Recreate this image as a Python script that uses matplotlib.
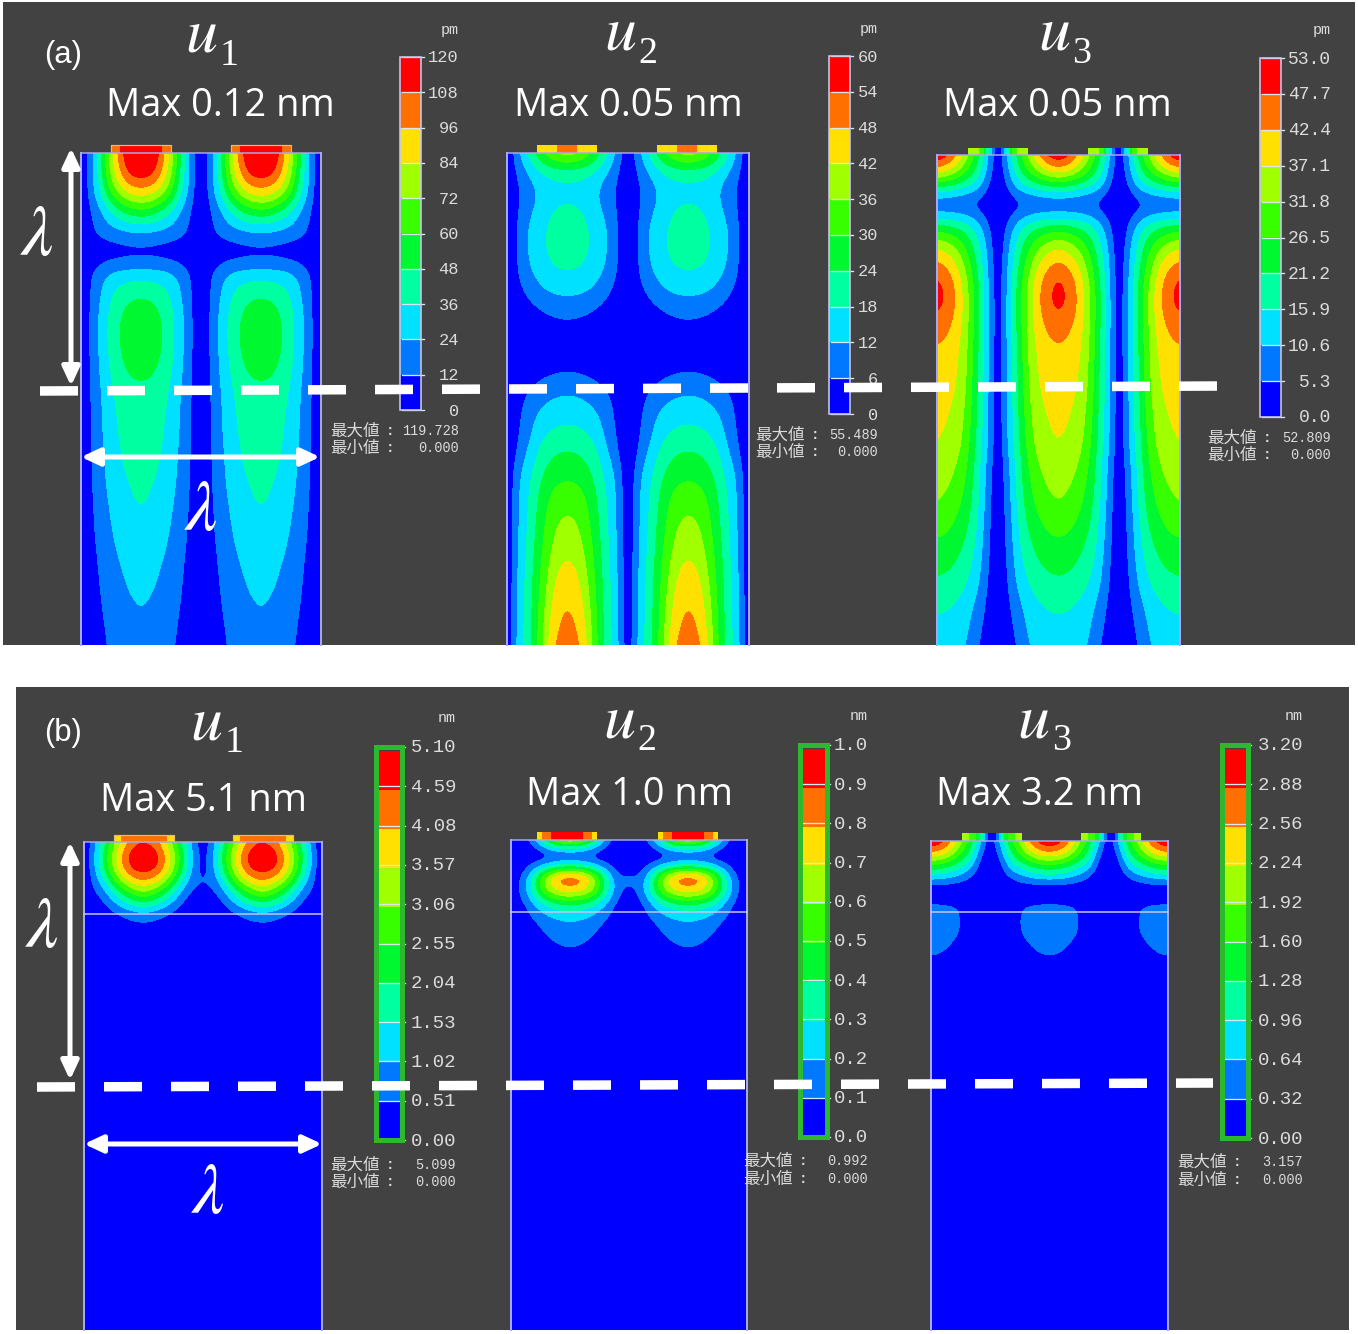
#!/usr/bin/env python3
"""Displacement contour maps of u1, u2, u3 for two surface-wave structures."""
import numpy as np
import matplotlib
matplotlib.use("Agg")
import matplotlib.pyplot as plt
from matplotlib.colors import BoundaryNorm, ListedColormap
from matplotlib.patches import FancyArrowPatch, Rectangle

plt.rcParams["mathtext.fontset"] = "stix"
plt.rcParams["lines.scale_dashes"] = False

W, H = 1358, 1334
BG = "#424242"
EDGE = "#A8A8F0"
TXT = "#DCDCDC"
MONO = "Liberation Mono"
CJK = ["Noto Sans CJK JP", "DejaVu Sans"]

BANDS = ["#0000FF", "#0078FF", "#00E0FF", "#00FFA0", "#00F830", "#38FF00",
         "#A0FF00", "#FFE000", "#FF7000", "#FF0000"]

# Fields are half a unit cell wide, seven columns from the outer wall inward,
# in colour-band units (1.0 = one band, i.e. a tenth of the colour scale).
A_U1 = [
    [0, 1.5, 4.0, 6.8, 8.8, 10.5, 11],
    [0, 1.6, 3.8, 6.4, 8.3, 9.4, 9.7],
    [0, 1.5, 3.2, 5.2, 6.6, 7.4, 7.6],
    [0, 0.95, 1.75, 2.85, 3.65, 4.3, 4.5],
    [0, 0.85, 1.35, 1.55, 1.7, 1.85, 1.9],
    [0, 0.05, 0.15, 0.25, 0.3, 0.35, 0.35],
    [0, 1.0, 1.75, 2.15, 2.35, 2.45, 2.5],
    [0, 1.1, 2.0, 2.9, 3.5, 3.8, 3.9],
    [0, 1.2, 2.3, 3.3, 4.0, 4.4, 4.5],
    [0, 1.2, 2.4, 3.4, 4.2, 4.7, 4.8],
    [0, 1.2, 2.3, 3.3, 4.05, 4.5, 4.6],
    [0, 1.1, 2.2, 3.1, 3.8, 4.1, 4.15],
    [0, 1.1, 2.0, 2.85, 3.4, 3.75, 3.8],
    [0, 1.05, 1.95, 2.75, 3.25, 3.6, 3.65],
    [0, 1.0, 1.9, 2.65, 3.15, 3.45, 3.5],
    [0, 1.0, 1.8, 2.5, 3.05, 3.3, 3.35],
    [0, 0.95, 1.75, 2.4, 2.9, 3.15, 3.2],
    [0, 0.9, 1.65, 2.25, 2.7, 3.0, 3.1],
    [0, 0.85, 1.5, 2.1, 2.55, 2.9, 2.98],
    [0, 0.8, 1.4, 1.95, 2.35, 2.7, 2.8],
    [0, 0.7, 1.25, 1.8, 2.15, 2.45, 2.55],
    [0, 0.6, 1.15, 1.6, 1.95, 2.25, 2.35],
    [0, 0.55, 1.05, 1.45, 1.8, 2.05, 2.15],
    [0, 0.5, 0.95, 1.3, 1.6, 1.85, 1.98],
    [0, 0.45, 0.85, 1.2, 1.45, 1.7, 1.8],
    [0, 0.4, 0.8, 1.1, 1.35, 1.6, 1.7],
]
A_U2 = [
    [0.2, 1.7, 3.2, 4.6, 5.8, 6.6, 7.0],
    [0, 1.1, 1.9, 2.6, 3.0, 3.1, 3.1],
    [0, 0.8, 1.4, 1.95, 2.5, 2.7, 2.75],
    [0, 0.95, 1.7, 2.3, 2.85, 3.15, 3.25],
    [0, 1.05, 2.05, 2.7, 3.1, 3.5, 3.6],
    [0, 1.05, 2.0, 2.6, 3.05, 3.35, 3.4],
    [0, 0.95, 1.75, 2.3, 2.75, 2.95, 3.0],
    [0, 0.6, 1.15, 1.6, 1.95, 2.1, 2.15],
    [0, 0.2, 0.5, 0.8, 1.05, 1.25, 1.3],
    [0, 0, 0.05, 0.15, 0.3, 0.4, 0.45],
    [0, 0, 0.05, 0.1, 0.15, 0.2, 0.2],
    [0, 0, 0.3, 0.6, 0.85, 1.0, 1.05],
    [0, 0.5, 1.05, 1.5, 1.75, 1.9, 1.95],
    [0, 0.7, 1.45, 2.0, 2.3, 2.55, 2.6],
    [0, 0.85, 1.6, 2.5, 3.0, 3.25, 3.3],
    [0, 1.1, 2.1, 3.05, 3.65, 4.0, 4.1],
    [0, 1.7, 2.6, 3.5, 4.3, 4.7, 4.75],
    [0, 1.85, 2.85, 3.9, 4.85, 5.3, 5.4],
    [0, 1.9, 2.95, 4.1, 5.15, 5.8, 6.0],
    [0, 1.95, 3.05, 4.3, 5.4, 6.25, 6.5],
    [0, 2.0, 3.15, 4.45, 5.7, 6.6, 6.9],
    [0, 2.1, 3.3, 4.6, 6.0, 7.1, 7.4],
    [0, 2.15, 3.35, 4.7, 6.3, 7.5, 7.8],
    [0, 2.2, 3.4, 4.8, 6.6, 7.8, 8.15],
    [0, 2.25, 3.45, 4.85, 6.9, 8.1, 8.4],
    [0, 2.35, 3.55, 4.95, 7.1, 8.5, 8.6],
]
A_U3 = [
    [10.8, 10.2, 8.6, 6.8, 4.8, 2.4, 0],
    [9.0, 8.5, 7.4, 5.8, 4.2, 2.1, 0],
    [4.8, 4.6, 4.1, 3.6, 2.8, 1.3, 0],
    [0.3, 0.3, 0.35, 0.3, 0.25, 0.1, 0],
    [4.1, 3.95, 3.7, 3.3, 2.4, 1.2, 0],
    [6.7, 6.4, 5.7, 4.7, 3.4, 1.8, 0],
    [8.3, 7.9, 7.0, 5.6, 3.9, 2.1, 0],
    [9.4, 8.8, 7.8, 6.2, 4.3, 2.3, 0],
    [9.4, 8.9, 7.9, 6.4, 4.4, 2.4, 0],
    [8.6, 8.3, 7.6, 6.3, 4.3, 2.4, 0],
    [8.0, 7.85, 7.3, 6.2, 4.2, 2.35, 0],
    [7.65, 7.5, 7.15, 6.1, 4.1, 2.35, 0],
    [7.45, 7.3, 7.05, 6.0, 4.0, 2.3, 0],
    [7.3, 7.15, 6.85, 5.8, 3.95, 2.25, 0],
    [7.15, 7.0, 6.65, 5.6, 3.85, 2.2, 0],
    [7.02, 6.85, 6.45, 5.4, 3.75, 2.15, 0],
    [6.7, 6.5, 6.0, 5.1, 3.5, 1.8, 0],
    [6.3, 6.1, 5.7, 4.8, 3.4, 1.65, 0],
    [6.0, 5.8, 5.3, 4.5, 3.3, 1.5, 0],
    [5.5, 5.3, 4.8, 4.2, 3.0, 1.4, 0],
    [4.8, 4.7, 4.35, 3.8, 2.8, 1.3, 0],
    [4.3, 4.2, 3.95, 3.4, 2.55, 1.15, 0],
    [3.85, 3.75, 3.5, 3.0, 2.25, 1.0, 0],
    [3.25, 3.15, 2.9, 2.45, 1.75, 0.8, 0],
    [2.8, 2.75, 2.55, 2.2, 1.45, 0.6, 0],
    [2.45, 2.4, 2.3, 2.0, 1.15, 0.4, 0],
    [2.2, 2.15, 2.1, 1.85, 0.95, 0.3, 0],
]
B_U1 = [
    [0.2, 1.6, 3.5, 5.8, 7.4, 8.6, 8.9],
    [0.3, 1.8, 4.2, 6.4, 8.3, 9.6, 9.9],
    [0.4, 2.0, 4.2, 6.6, 8.5, 9.7, 10],
    [0.5, 1.6, 3.8, 6.0, 7.8, 9.0, 9.1],
    [1.1, 1.3, 2.6, 4.8, 6.4, 7.4, 8.0],
    [0.3, 0.9, 1.7, 3.2, 4.6, 5.5, 6.2],
    [0, 0.3, 1.0, 1.9, 3.0, 3.8, 4.2],
    [0, 0, 0.5, 1.0, 1.4, 1.8, 2.0],
    [0, 0, 0.05, 0.3, 0.7, 1.0, 1.1],
    [0, 0, 0, 0, 0, 0.1, 0.2],
    [0, 0, 0, 0, 0, 0, 0],
]
B_U2 = [
    [0, 0.3, 1.6, 4.5, 7.0, 8.5, 9.0],
    [0, 0.1, 0.8, 1.9, 3.5, 4.4, 4.6],
    [0, 0.1, 0.2, 0.35, 0.5, 0.6, 0.6],
    [0, 0.3, 1.0, 1.6, 2.4, 2.9, 3.0],
    [1.2, 0.9, 2.4, 4.9, 6.9, 8.15, 8.2],
    [1.1, 1.3, 3.0, 5.5, 7.2, 8.3, 8.5],
    [0.3, 1.1, 2.5, 4.4, 5.8, 6.4, 6.5],
    [0, 0.6, 1.6, 2.5, 3.3, 3.8, 4.0],
    [0, 0.2, 1.1, 1.7, 2.2, 2.4, 2.5],
    [0, 0, 0.6, 1.1, 1.4, 1.7, 1.8],
    [0, 0, 0.2, 0.85, 1.2, 1.35, 1.4],
    [0, 0, 0, 0.3, 0.8, 1.1, 1.15],
    [0, 0, 0, 0, 0.2, 0.5, 0.7],
    [0, 0, 0, 0, 0, 0, 0],
]
B_U3 = [
    [11, 10, 8.5, 6.8, 5.0, 2.5, 0],
    [9.4, 9.0, 7.9, 6.0, 4.5, 2.0, 0],
    [7.5, 7.3, 6.3, 5.0, 3.7, 1.2, 0],
    [5.0, 4.8, 4.3, 3.5, 2.6, 0.6, 0],
    [3.0, 2.9, 2.5, 2.0, 1.3, 0.25, 0],
    [0.8, 0.8, 0.7, 0.6, 0.3, 0.05, 0],
    [0.2, 0.2, 0.2, 0.15, 0.1, 0, 0],
    [1.2, 1.15, 1.05, 0.9, 0.2, 0, 0],
    [1.4, 1.35, 1.3, 1.05, 0.2, 0, 0],
    [1.4, 1.35, 1.3, 1.1, 0.2, 0, 0],
    [1.35, 1.3, 1.2, 1.0, 0.1, 0, 0],
    [1.3, 1.25, 1.1, 0.6, 0, 0, 0],
    [1.1, 1.05, 0.6, 0.1, 0, 0, 0],
    [0.5, 0.3, 0.1, 0, 0, 0, 0],
    [0, 0, 0, 0, 0, 0, 0],
]

# electrode colour bands, outer edge to electrode centre
STRIP_A_U1 = [8.5, 8.5, 9.5, 9.5, 9.5, 9.5, 9.5]
STRIP_A_U2 = [7.5, 7.5, 7.5, 7.5, 8.2, 8.5, 9.2]
STRIP_A_U3 = [6.5, 6.5, 6.0, 5.0, 3.0, 1.5, 0.0]
STRIP_B_U1 = [7.5, 8.0, 8.5, 8.5, 8.5, 8.5, 8.5]
STRIP_B_U2 = [7.5, 8.5, 8.5, 9.5, 9.5, 9.5, 9.5]
STRIP_B_U3 = [6.5, 6.0, 5.5, 4.5, 3.0, 1.0, 0.0]

TICKS_A_U1 = ["0", "12", "24", "36", "48", "60", "72", "84", "96", "108", "120"]
TICKS_A_U2 = ["0", "6", "12", "18", "24", "30", "36", "42", "48", "54", "60"]
TICKS_A_U3 = ["0.0", "5.3", "10.6", "15.9", "21.2", "26.5", "31.8", "37.1", "42.4", "47.7", "53.0"]
TICKS_B_U1 = ["0.00", "0.51", "1.02", "1.53", "2.04", "2.55", "3.06", "3.57", "4.08", "4.59", "5.10"]
TICKS_B_U2 = ["0.0", "0.1", "0.2", "0.3", "0.4", "0.5", "0.6", "0.7", "0.8", "0.9", "1.0"]
TICKS_B_U3 = ["0.00", "0.32", "0.64", "0.96", "1.28", "1.60", "1.92", "2.24", "2.56", "2.88", "3.20"]

PANELS = [
    dict(field=A_U1, strip=STRIP_A_U1, ticks=TICKS_A_U1, unit="pm", title="Max 0.12 nm", vmax="119.728", sub="1",
         box=(81, 321, 153, 645), ry=(153, 20), wall=True, el=(141, 261, 145, 153),
         bar=(400, 421, 57, 410), lab=459, fs=17, uy=30, my=(431, 448), ml=330,
         tx=(220, 106), u=(201, 52), d=(229, 65), line=None, framed=False, rim=True),
    dict(field=A_U2, strip=STRIP_A_U2, ticks=TICKS_A_U2, unit="pm", title="Max 0.05 nm", vmax="55.489", sub="2",
         box=(507, 749, 153, 645), ry=(153, 20), wall=True, el=(567, 687, 145, 153),
         bar=(829, 850, 56, 414), lab=878, fs=17, uy=29, my=(435, 452), ml=755,
         tx=(628, 106), u=(620, 50), d=(648, 63), line=None, framed=False, rim=False),
    dict(field=A_U3, strip=STRIP_A_U3, ticks=TICKS_A_U3, unit="pm", title="Max 0.05 nm", vmax="52.809", sub="3",
         box=(937, 1180, 155, 645), ry=(144, 20), wall=False, el=(998, 1118, 148, 155),
         bar=(1260, 1281, 58, 417), lab=1331, fs=18, uy=30, my=(438, 455), ml=1207,
         tx=(1057, 106), u=(1054, 50), d=(1082, 63), line=None, framed=False, rim=False),
    dict(field=B_U1, strip=STRIP_B_U1, ticks=TICKS_B_U1, unit="nm", title="Max 5.1 nm", vmax="5.099", sub="1",
         box=(84, 322, 842, 1330), ry=(842, 10), wall=True, el=(144, 263, 835, 842),
         bar=(376, 402, 747, 1140), lab=456, fs=19, uy=718, my=(1165, 1182), ml=330,
         tx=(204, 801), u=(206, 740), d=(234, 752), line=914, framed=True, rim=True),
    dict(field=B_U2, strip=STRIP_B_U2, ticks=TICKS_B_U2, unit="nm", title="Max 1.0 nm", vmax="0.992", sub="2",
         box=(511, 747, 840, 1330), ry=(835, 10), wall=True, el=(567, 688, 832, 840),
         bar=(800, 827, 745, 1137), lab=868, fs=19, uy=716, my=(1161, 1179), ml=743,
         tx=(629, 795), u=(619, 738), d=(647, 750), line=912, framed=True, rim=False),
    dict(field=B_U3, strip=STRIP_B_U3, ticks=TICKS_B_U3, unit="nm", title="Max 3.2 nm", vmax="3.157", sub="3",
         box=(931, 1168, 841, 1330), ry=(835, 10), wall=False, el=(992, 1111, 833, 841),
         bar=(1222, 1248, 745, 1138), lab=1303, fs=19, uy=716, my=(1162, 1180), ml=1177,
         tx=(1040, 795), u=(1033, 738), d=(1062, 750), line=912, framed=True, rim=False),
]

fig = plt.figure(figsize=(W / 100, H / 100), dpi=100, facecolor="white")
ax = fig.add_axes([0, 0, 1, 1])
ax.axis("off")

cmap = ListedColormap(BANDS)
cmap.set_under(BANDS[0])
cmap.set_over(BANDS[-1])
norm = BoundaryNorm(np.arange(11), 10)

ax.add_patch(Rectangle((3, 2), 1352, 643, fc=BG, ec="none", zorder=0))
ax.add_patch(Rectangle((16, 687), 1333, 643, fc=BG, ec="none", zorder=0))


def px(v):
    return v * 0.72


def unit_cells(half, wall):
    # mirror the half cell into two full periods
    half = np.asarray(half, float)
    back = half[:, ::-1]
    grid = np.hstack([half, back[:, 1:], half[:, 1:], back[:, 1:]])
    if wall:
        grid[:, 0] = 0
        grid[:, -1] = 0
    return grid


def draw_field(p):
    x0, x1, y0, y1 = p["box"]
    clip = Rectangle((x0, y0), x1 - x0, y1 - y0, transform=ax.transData)
    ax.add_patch(Rectangle((x0, y0), x1 - x0, y1 - y0, fc=BANDS[0], ec="none", zorder=1))
    grid = unit_cells(p["field"], p["wall"])
    ny, nx = grid.shape
    dx = (x1 - x0) / (nx - 1)
    ytop, dy = p["ry"]
    im = ax.imshow(grid, cmap=cmap, norm=norm, aspect="auto", origin="upper",
                   interpolation="bicubic", interpolation_stage="data",
                   extent=(x0 - dx / 2, x1 + dx / 2, ytop + (ny - 0.5) * dy, ytop - dy / 2),
                   zorder=2)
    im.set_clip_path(clip)

    # electrodes sit on top of the surface
    half = np.asarray(p["strip"], float)
    row = np.concatenate([half, half[-2::-1]])[None, :]
    c0, c1, et, eb = p["el"]
    for c in (c0, c1):
        ax.imshow(row, cmap=cmap, norm=norm, aspect="auto", origin="upper",
                  interpolation="bicubic", interpolation_stage="data",
                  extent=(c - 30, c + 30, eb, et), zorder=2)
        if p["rim"]:
            ax.plot([c - 30, c - 30, c + 30, c + 30], [eb, et, et, eb], color="#E8B878",
                    lw=px(1.2), zorder=3)

    # model outline
    ax.plot([x0, x0], [y0, y1], color=EDGE, lw=px(2), zorder=3)
    ax.plot([x1, x1], [y0, y1], color=EDGE, lw=px(2), zorder=3)
    ax.plot([x0, x1], [y0, y0], color=EDGE, lw=px(1.5), zorder=3)
    if p["line"]:
        ax.plot([x0, x1], [p["line"], p["line"]], color="#C8C8F0", lw=px(1.5), zorder=3)
    ax.set_xlim(0, W)
    ax.set_ylim(H, 0)


def draw_bar(p):
    x0, x1, y0, y1 = p["bar"]
    inner = y0 + (4 if p["framed"] else 0)
    ax.imshow(np.arange(9.5, 0, -1)[:, None], cmap=cmap, norm=norm, aspect="auto",
              interpolation="nearest", extent=(x0, x1, y1, inner), zorder=2)
    ys = np.linspace(y1, y0, len(p["ticks"]))
    for y, lab in zip(ys, p["ticks"]):
        ax.plot([x0 + 2, x1 + 3], [y, y], color="#D8E8F0", lw=px(1.3), zorder=3)
        ax.text(p["lab"], y + 1, lab, ha="right", va="center", color=TXT,
                fontsize=px(p["fs"]), family=MONO, zorder=4)
    if p["framed"]:
        ax.add_patch(Rectangle((x0, y0), x1 - x0, y1 - y0, fc="none", ec="#2EB82E",
                               lw=px(5), zorder=3))
    else:
        ax.add_patch(Rectangle((x0, y0), x1 - x0, y1 - y0, fc="none", ec="#C8C8EC",
                               lw=px(1.6), zorder=3))
    ax.text(p["lab"], p["uy"], p["unit"], ha="right", va="center", color=TXT,
            fontsize=px(15), family=MONO, zorder=4)
    for y, name, val in zip(p["my"], ("最大値", "最小値"), (p["vmax"], "0.000")):
        ax.text(p["ml"], y, name, ha="left", va="center", color=TXT,
                fontsize=px(16.5), family=CJK, zorder=4)
        ax.text(p["ml"] + 60, y, ":", ha="center", va="center", color=TXT,
                fontsize=px(14), family=MONO, fontweight="bold", zorder=4)
        ax.text(p["lab"], y, val, ha="right", va="center", color=TXT,
                fontsize=px(13.5), family=MONO, zorder=4)


def draw_titles(p):
    ax.text(*p["tx"], p["title"], ha="center", va="center", color="white",
            fontsize=px(38), family="Open Sans", zorder=4)
    ax.text(*p["u"], r"$u$", ha="center", va="baseline", color="white",
            fontsize=px(64), zorder=4)
    ax.text(*p["d"], p["sub"], ha="center", va="baseline", color="white",
            fontsize=px(38), family="Liberation Serif", zorder=4)


def double_arrow(a, b):
    ax.add_patch(FancyArrowPatch(a, b, arrowstyle="<|-|>,head_length=0.6,head_width=0.28",
                                 mutation_scale=px(26), lw=px(5), color="white",
                                 shrinkA=0, shrinkB=0, zorder=6))


for panel in PANELS:
    draw_field(panel)
    draw_bar(panel)
    draw_titles(panel)

ax.text(44, 55, "(a)", color="white", fontsize=px(31), family="Liberation Sans", va="center", zorder=6)
ax.text(44, 733, "(b)", color="white", fontsize=px(31), family="Liberation Sans", va="center", zorder=6)

# wavelength markers and the dashed depth line
double_arrow((71, 148), (71, 386))
double_arrow((81, 457), (320, 457))
double_arrow((70, 842), (70, 1080))
double_arrow((84, 1144), (322, 1144))
for x, y in [(37, 255), (201, 530), (42, 947), (208, 1213)]:
    ax.text(x, y, r"$\lambda$", ha="center", va="baseline", color="white",
            fontsize=px(72), zorder=6)

dash = (0, (px(38), px(29)))
ax.plot([40, 1222], [391, 386], color="white", lw=px(9.5), linestyle=dash,
        dash_capstyle="butt", zorder=7)
ax.plot([37, 1213], [1087, 1083], color="white", lw=px(9.5), linestyle=dash,
        dash_capstyle="butt", zorder=7)

ax.set_xlim(0, W)
ax.set_ylim(H, 0)
fig.savefig("out.png", dpi=100, facecolor="white")
